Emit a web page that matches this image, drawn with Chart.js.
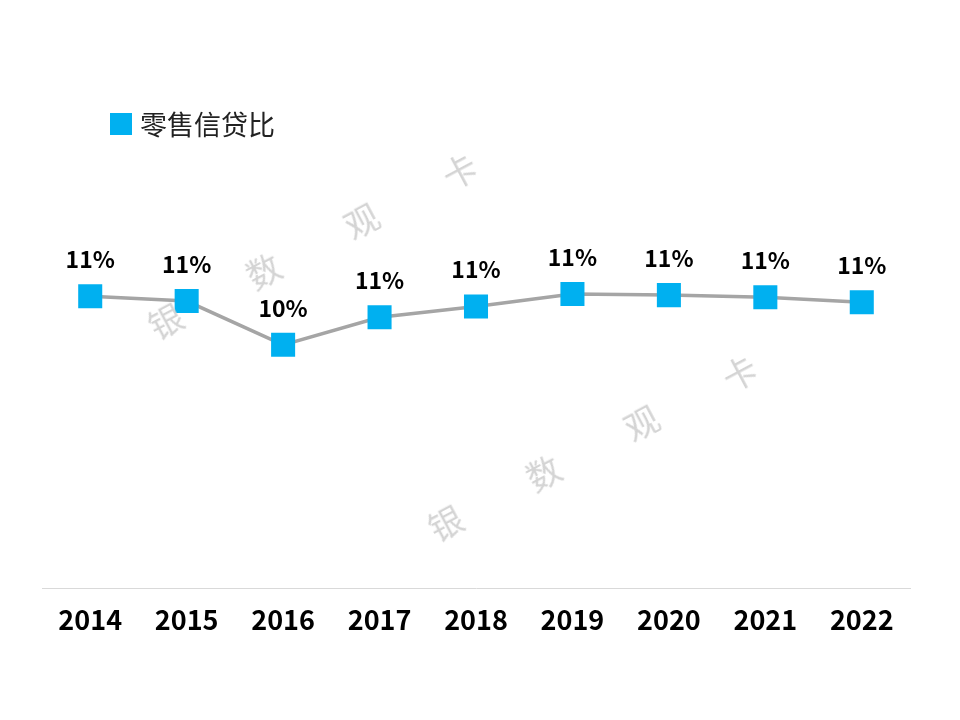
<!DOCTYPE html>
<html>
<head>
<meta charset="utf-8">
<script src="https://cdn.jsdelivr.net/npm/chart.js@4.4.0/dist/chart.umd.min.js"></script>
<style>
  html, body { margin: 0; padding: 0; background: #fff; }
  #wrap { position: relative; width: 960px; height: 720px; }
  #legend { position: absolute; left: 110px; top: 104px; display: flex; align-items: center;
            font-family: "Noto Sans CJK SC", sans-serif; font-size: 27px; color: #222; }
  #legend span.box { display: inline-block; width: 22px; height: 22px; background: #00B0F0; margin-right: 8px; }
  .wm { position: absolute; font-family: "Noto Sans CJK SC", sans-serif; font-size: 34px; color: #d4d4d4;
        transform: translate(-50%, -50%) rotate(-28deg); pointer-events: none; }
</style>
</head>
<body>
<div id="wrap">
  <canvas id="chart" width="960" height="720"></canvas>
  <div id="legend"><span class="box"></span><span>零售信贷比</span></div>
</div>
<script>
const years = ['2014', '2015', '2016', '2017', '2018', '2019', '2020', '2021', '2022'];
const retailLoanRatio = [11.2, 11.11, 10.3, 10.81, 11.01, 11.24, 11.22, 11.18, 11.09];
const seriesName = '零售信贷比';
const watermarkChars = ['银', '数', '观', '卡'];

// watermark, two diagonal rows
const wrap = document.getElementById('wrap');
const wmRows = [[165, 320], [445, 522]];
wmRows.forEach(function (start) {
    watermarkChars.forEach(function (ch, i) {
        const d = document.createElement('div');
        d.className = 'wm';
        d.textContent = ch;
        d.style.left = (start[0] + i * 98) + 'px';
        d.style.top = (start[1] - i * 50) + 'px';
        wrap.appendChild(d);
    });
});

const valueLabels = {
    id: 'valueLabels',
    afterDatasetsDraw(chart) {
        const ctx = chart.ctx;
        const meta = chart.getDatasetMeta(0);
        ctx.save();
        ctx.font = 'bold 23px "Noto Sans CJK SC", sans-serif';
        ctx.fillStyle = '#000';
        ctx.textAlign = 'center';
        ctx.textBaseline = 'middle';
        meta.data.forEach(function (pt, i) {
            ctx.fillText(Math.round(retailLoanRatio[i]) + '%', pt.x, pt.y - 37);
        });
        ctx.restore();
    }
};

const ctx = document.getElementById('chart').getContext('2d');
const chart = new Chart(ctx, {
    type: 'line',
    data: {
        labels: years,
        datasets: [{
            label: seriesName,
            data: retailLoanRatio,
            borderColor: '#A5A5A5',
            borderWidth: 3.5,
            pointStyle: 'rect',
            pointRadius: 17,
            pointBackgroundColor: '#00B0F0',
            pointBorderWidth: 0,
            tension: 0
        }]
    },
    options: {
        responsive: false,
        animation: false,
        layout: { padding: { left: 42, right: 50, top: 160, bottom: 77 } },
        plugins: {
            legend: { display: false },
            tooltip: { enabled: false }
        },
        scales: {
            x: {
                offset: true,
                grid: { display: false },
                border: { display: true, color: '#d9d9d9', width: 1 },
                ticks: {
                    color: '#000',
                    padding: 7,
                    font: { family: '"Noto Sans CJK SC", sans-serif', size: 27, weight: 'bold' }
                }
            },
            y: {
                display: false,
                min: 5.79,
                max: 13.72
            }
        }
    },
    plugins: [valueLabels]
});
</script>
</body>
</html>
